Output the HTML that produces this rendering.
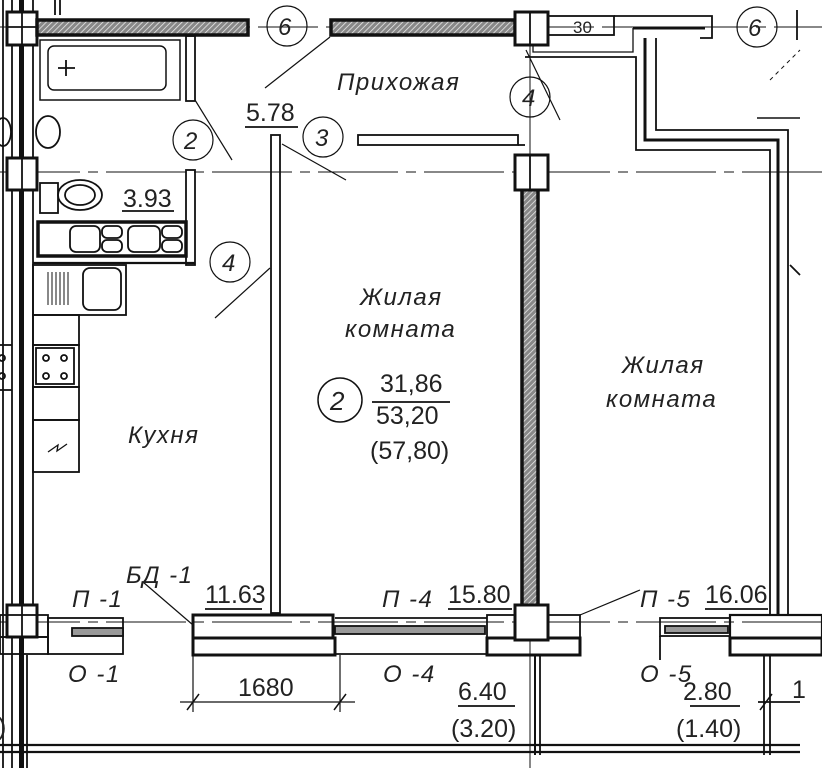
<!DOCTYPE html>
<html><head><meta charset="utf-8"><style>
html,body{margin:0;padding:0;background:#fff;width:822px;height:768px;overflow:hidden}
svg{display:block}
text{font-family:"Liberation Sans Narrow","Liberation Sans",sans-serif;fill:#222}
.it{font-style:italic;font-size:24px;letter-spacing:1.5px}
.num{font-size:25px}
</style></head><body>
<svg width="822" height="768" viewBox="0 0 822 768" xmlns="http://www.w3.org/2000/svg">
<defs>
<pattern id="h" width="4" height="4" patternUnits="userSpaceOnUse" patternTransform="rotate(45)">
<rect width="4" height="4" fill="#888"/><line x1="0" y1="0" x2="0" y2="4" stroke="#eee" stroke-width="1.5"/></pattern>
</defs>
<g stroke="#111" fill="none" stroke-width="1.8">
<line x1="0" y1="27" x2="822" y2="27" stroke-width="1" stroke-dasharray="60 8 10 8"/>
<line x1="0" y1="172" x2="822" y2="172" stroke-width="1" stroke-dasharray="80 8 10 8"/>
<line x1="0" y1="622" x2="822" y2="622" stroke-width="1" stroke-dasharray="80 8 10 8"/>
<line x1="3" y1="0" x2="3" y2="768"/>
<line x1="12" y1="0" x2="12" y2="768"/>
<rect x="19" y="0" width="5" height="768" fill="#111" stroke="none"/>
<line x1="33" y1="0" x2="33" y2="605"/>
<line x1="55" y1="0" x2="55" y2="15"/><line x1="60" y1="0" x2="60" y2="15"/>
<rect x="7" y="12" width="30" height="33" fill="#fff" stroke-width="3"/>
<line x1="22" y1="12" x2="22" y2="45"/><line x1="7" y1="27" x2="37" y2="27"/>
<rect x="7" y="158" width="30" height="32" fill="#fff" stroke-width="3"/>
<line x1="22" y1="158" x2="22" y2="190"/>
<rect x="7" y="605" width="30" height="32" fill="#fff" stroke-width="3"/>
<line x1="22" y1="605" x2="22" y2="637"/>
<rect x="37" y="20" width="211" height="15" fill="url(#h)" stroke-width="3.5"/>
<rect x="331" y="20" width="184" height="15" fill="url(#h)" stroke-width="3.5"/>
<circle cx="287" cy="26" r="20" stroke-width="1.2"/>
<line x1="330" y1="37" x2="265" y2="88" stroke-width="1.2"/>
<rect x="40" y="40" width="140" height="60" stroke-width="1.5"/>
<rect x="48" y="46" width="118" height="44" rx="6" stroke-width="1.5"/>
<line x1="58" y1="68" x2="75" y2="68"/><line x1="66" y1="60" x2="66" y2="76"/>
<rect x="186" y="36" width="9" height="65" stroke-width="1.8"/>
<line x1="195" y1="100" x2="232" y2="160" stroke-width="1.2"/>
<circle cx="193" cy="140" r="20" stroke-width="1.2"/>
<ellipse cx="48" cy="132" rx="12" ry="16"/>
<ellipse cx="3" cy="132" rx="8" ry="14"/>
<rect x="186" y="170" width="9" height="95" stroke-width="1.8"/>
<rect x="40" y="183" width="18" height="30"/>
<ellipse cx="80" cy="195" rx="22" ry="15"/>
<ellipse cx="80" cy="195" rx="15" ry="10"/>
<line x1="122" y1="211" x2="174" y2="211"/>
<rect x="38" y="222" width="148" height="34" stroke-width="3.5"/>
<rect x="70" y="226" width="30" height="26" rx="6"/><rect x="102" y="226" width="20" height="12" rx="5"/><rect x="102" y="240" width="20" height="12" rx="5"/>
<rect x="128" y="226" width="32" height="26" rx="6"/><rect x="162" y="226" width="20" height="12" rx="5"/><rect x="162" y="240" width="20" height="12" rx="5"/>
<line x1="33" y1="263" x2="195" y2="263" stroke-width="2.2"/>
<rect x="33" y="265" width="93" height="50"/>
<rect x="83" y="268" width="38" height="42" rx="7"/>
<g stroke-width="1"><line x1="48" y1="272" x2="48" y2="305"/><line x1="52" y1="272" x2="52" y2="305"/><line x1="56" y1="272" x2="56" y2="305"/><line x1="60" y1="272" x2="60" y2="305"/><line x1="64" y1="272" x2="64" y2="305"/><line x1="68" y1="272" x2="68" y2="305"/></g>
<rect x="33" y="315" width="46" height="30"/>
<rect x="33" y="345" width="46" height="42"/>
<rect x="36" y="348" width="38" height="36"/>
<circle cx="46" cy="358" r="3"/><circle cx="64" cy="358" r="3"/><circle cx="46" cy="376" r="3"/><circle cx="64" cy="376" r="3"/>
<circle cx="2" cy="358" r="3"/><circle cx="2" cy="376" r="3"/>
<line x1="0" y1="345" x2="12" y2="345"/><line x1="0" y1="390" x2="12" y2="390"/>
<rect x="33" y="387" width="46" height="33"/>
<rect x="33" y="420" width="46" height="52"/>
<path d="M48 452 L58 445 L57 451 L67 444" stroke-width="1.3"/>
<rect x="271" y="135" width="9" height="478" stroke-width="1.8"/>
<line x1="282" y1="144" x2="346" y2="180" stroke-width="1.2"/>
<circle cx="323" cy="137" r="20" stroke-width="1.2"/>
<line x1="270" y1="268" x2="215" y2="318" stroke-width="1.2"/>
<circle cx="230" cy="262" r="20" stroke-width="1.2"/>
<line x1="245" y1="127" x2="298" y2="127"/>
<rect x="358" y="135" width="160" height="10" stroke-width="1.8"/>
<line x1="518" y1="145" x2="525" y2="145"/>
<line x1="530" y1="45" x2="530" y2="160" stroke-width="1"/>
<circle cx="530" cy="97" r="20" stroke-width="1.2"/>
<line x1="526" y1="50" x2="560" y2="120" stroke-width="1.2"/>
<rect x="522" y="188" width="16" height="418" fill="url(#h)" stroke-width="3.5"/>
<rect x="515" y="155" width="33" height="35" fill="#fff" stroke-width="3"/>
<line x1="530" y1="155" x2="530" y2="190"/>
<rect x="515" y="12" width="33" height="33" fill="#fff" stroke-width="3"/>
<line x1="530" y1="12" x2="530" y2="45"/>
<rect x="548" y="16" width="66" height="19"/>
<text x="573" y="33" style="font-size:17px;stroke:none">30</text>
<path d="M614 16 L712 16 L712 38 L700 38"/>
<path d="M633 28 L705 28" stroke-width="3"/>
<path d="M527 45 L533 45 L533 52 L633 52 L633 28" stroke-width="1.3"/>
<path d="M525 57 L636 57 L636 150 L770 150 L770 615"/>
<path d="M645 38 L645 140 L778 140 L778 615" stroke-width="3"/>
<path d="M656 38 L656 130 L788 130 L788 615"/>
<circle cx="757" cy="27" r="20" stroke-width="1.2"/>
<line x1="797" y1="10" x2="797" y2="40"/>
<line x1="770" y1="80" x2="800" y2="50" stroke-width="1" stroke-dasharray="4 4"/>
<line x1="757" y1="118" x2="800" y2="118" stroke-width="1.5"/>
<line x1="790" y1="265" x2="800" y2="275"/>
<rect x="0" y="615" width="48" height="22"/>
<rect x="0" y="637" width="48" height="17"/>
<rect x="48" y="618" width="75" height="36"/>
<rect x="72" y="628" width="51" height="8" fill="#999"/>
<rect x="193" y="615" width="140" height="23" stroke-width="3"/>
<rect x="193" y="638" width="142" height="17" stroke-width="3"/>
<line x1="335" y1="618" x2="487" y2="618"/>
<rect x="335" y="626" width="150" height="8" fill="#999"/>
<line x1="335" y1="654" x2="487" y2="654"/>
<rect x="487" y="615" width="93" height="23"/>
<rect x="487" y="638" width="93" height="17" stroke-width="3"/>
<rect x="515" y="605" width="33" height="35" fill="#fff" stroke-width="3"/>
<line x1="530" y1="640" x2="530" y2="768" stroke-width="1"/>
<rect x="660" y="618" width="70" height="18"/>
<rect x="665" y="626" width="63" height="7" fill="#999"/>
<line x1="660" y1="636" x2="660" y2="660"/>
<rect x="730" y="615" width="92" height="23" stroke-width="2.2"/>
<rect x="730" y="638" width="92" height="17" stroke-width="3"/>
<line x1="580" y1="615" x2="640" y2="590" stroke-width="1.2"/>
<line x1="193" y1="625" x2="143" y2="582" stroke-width="1.2"/>
<line x1="205" y1="609" x2="262" y2="609"/>
<line x1="448" y1="609" x2="512" y2="609"/>
<line x1="705" y1="609" x2="768" y2="609"/>
<line x1="180" y1="702" x2="355" y2="702" stroke-width="1.2"/>
<line x1="193" y1="655" x2="193" y2="712" stroke-width="1.2"/>
<line x1="340" y1="655" x2="340" y2="712" stroke-width="1.2"/>
<line x1="187" y1="710" x2="199" y2="694" stroke-width="1.5"/>
<line x1="334" y1="710" x2="346" y2="694" stroke-width="1.5"/>
<line x1="458" y1="706" x2="515" y2="706"/>
<line x1="690" y1="706" x2="740" y2="706"/>
<line x1="758" y1="702" x2="800" y2="702"/>
<line x1="760" y1="710" x2="772" y2="694" stroke-width="1.5"/>
<line x1="0" y1="745" x2="800" y2="745" stroke-width="2.2"/>
<line x1="0" y1="752" x2="800" y2="752" stroke-width="2.2"/>
<line x1="20" y1="655" x2="20" y2="768"/><line x1="27" y1="655" x2="27" y2="768"/>
<line x1="535" y1="655" x2="535" y2="755" stroke-width="2"/><line x1="540" y1="655" x2="540" y2="755"/>
<line x1="764" y1="655" x2="764" y2="755"/><line x1="770" y1="655" x2="770" y2="755"/>
<circle cx="340" cy="400" r="22" stroke-width="1.5"/>
<line x1="372" y1="402" x2="450" y2="402"/>
</g>
<text class="it" x="337" y="90">Прихожая</text>
<text class="num" x="246" y="121">5.78</text>
<text class="it" x="184" y="149">2</text>
<text class="it" x="315" y="146">3</text>
<text class="it" x="222" y="271">4</text>
<text class="it" x="522" y="106">4</text>
<text class="it" x="278" y="35">6</text>
<text class="it" x="748" y="36">6</text>
<text class="num" x="123" y="207">3.93</text>
<text class="it" x="360" y="305">Жилая</text>
<text class="it" x="345" y="337">комната</text>
<text class="it" x="330" y="410" style="font-size:26px">2</text>
<text class="num" x="380" y="392">31,86</text>
<text class="num" x="376" y="424">53,20</text>
<text class="num" x="370" y="459">(57,80)</text>
<text class="it" x="622" y="373">Жилая</text>
<text class="it" x="606" y="407">комната</text>
<text class="it" x="128" y="443">Кухня</text>
<text class="it" x="126" y="583">БД -1</text>
<text class="it" x="72" y="607">П -1</text>
<text class="num" x="205" y="603">11.63</text>
<text class="it" x="382" y="607">П -4</text>
<text class="num" x="448" y="603">15.80</text>
<text class="it" x="640" y="607">П -5</text>
<text class="num" x="705" y="603">16.06</text>
<text class="it" x="68" y="682">О -1</text>
<text class="it" x="383" y="682">О -4</text>
<text class="it" x="640" y="682">О -5</text>
<text class="num" x="238" y="696">1680</text>
<text class="num" x="458" y="700">6.40</text>
<text class="num" x="451" y="737">(3.20)</text>
<text class="num" x="683" y="700">2.80</text>
<text class="num" x="676" y="737">(1.40)</text>
<text class="num" x="792" y="698">1</text>
<text class="num" x="-2" y="735">)</text>
</svg>
</body></html>
